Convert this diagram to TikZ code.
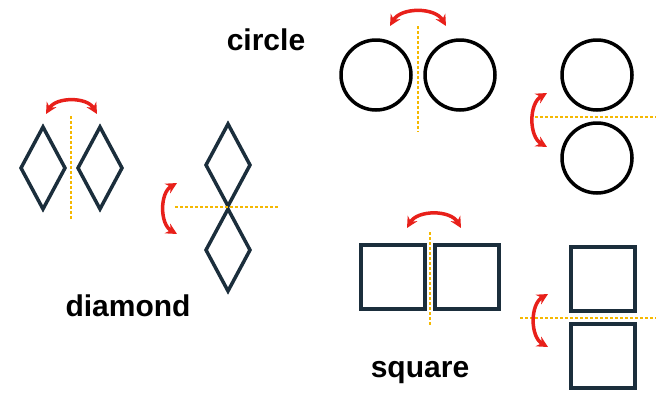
\documentclass[tikz,border=0pt]{standalone}
\usepackage{fontspec}
\setmainfont{Liberation Sans}
\usetikzlibrary{shapes.geometric,arrows.meta}
\definecolor{navy}{HTML}{1B2E3C}
\definecolor{axisorange}{HTML}{F5B800}
\definecolor{flipred}{HTML}{E8201A}
\begin{document}
\begin{tikzpicture}[x=1pt,y=-1pt,
every node/.style={inner sep=0pt,outer sep=0pt},
shape circ/.style={circle,draw=black,line width=3.5pt,minimum size=70pt},
shape dia/.style={diamond,draw=navy,line width=3.5pt,minimum width=44pt,minimum height=82pt,aspect=0.55},
shape sq/.style={rectangle,draw=navy,line width=3.5pt,minimum size=64pt},
mirror/.style={axisorange,line width=2.5pt,dash pattern=on 2.5pt off 2.5pt},
flip/.style={flipred,line width=3.5pt,{Stealth[length=11pt,width=11pt]}-{Stealth[length=11pt,width=11pt]}},
tag/.style={font=\fontsize{30}{34}\selectfont\bfseries},
]
\useasboundingbox (0,0) rectangle (663,400);
%circles
\node[tag] (tcirc) at (266,40) {circle};
\node[shape circ] (c1) at (376,75) {};
\node[shape circ] (c2) at (460,75) {};
\coordinate (cv1) at (418,26); \coordinate (cv2) at (418,132);
\draw[mirror] (cv1) -- (cv2);
\coordinate (ca1) at (390,26); \coordinate (ca2) at (446,26);
\draw[flip] (ca1) to[bend left=60] (ca2);
\node[shape circ] (c3) at (597,75) {};
\node[shape circ] (c4) at (597,158) {};
\coordinate (ch1) at (535,117); \coordinate (ch2) at (656,117);
\draw[mirror] (ch1) -- (ch2);
\coordinate (cb1) at (547,93); \coordinate (cb2) at (547,147);
\draw[flip] (cb1) to[bend right=60] (cb2);
%diamonds
\node[tag] (tdia) at (128,306) {diamond};
\node[shape dia] (d1) at (43,168) {};
\node[shape dia] (d2) at (100,168) {};
\coordinate (dv1) at (71,116); \coordinate (dv2) at (71,220);
\draw[mirror] (dv1) -- (dv2);
\coordinate (da1) at (46,114); \coordinate (da2) at (97,114);
\draw[flip] (da1) to[bend left=60] (da2);
\node[shape dia] (d3) at (228,165) {};
\node[shape dia] (d4) at (228,250) {};
\coordinate (dh1) at (175,207); \coordinate (dh2) at (278,207);
\draw[mirror] (dh1) -- (dh2);
\coordinate (db1) at (177,183); \coordinate (db2) at (177,234);
\draw[flip] (db1) to[bend right=60] (db2);
%squares
\node[tag] (tsq) at (420,373) {square};
\node[shape sq] (s1) at (393,277) {};
\node[shape sq] (s2) at (467,277) {};
\coordinate (sv1) at (430,232); \coordinate (sv2) at (430,326);
\draw[mirror] (sv1) -- (sv2);
\coordinate (sa1) at (407,228); \coordinate (sa2) at (461,228);
\draw[flip] (sa1) to[bend left=60] (sa2);
\node[shape sq] (s3) at (603,279) {};
\node[shape sq] (s4) at (603,356) {};
\coordinate (sh1) at (520,318); \coordinate (sh2) at (656,318);
\draw[mirror] (sh1) -- (sh2);
\coordinate (sb1) at (548,294); \coordinate (sb2) at (548,347);
\draw[flip] (sb1) to[bend right=60] (sb2);
\end{tikzpicture}
\end{document}
